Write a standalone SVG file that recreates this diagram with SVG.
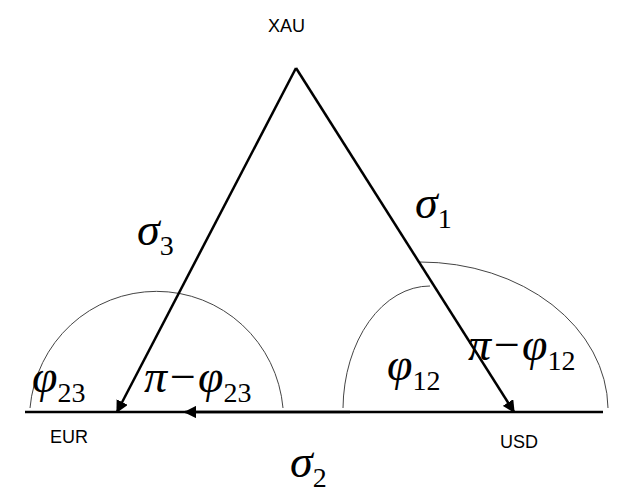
<svg xmlns="http://www.w3.org/2000/svg" width="621" height="501" viewBox="0 0 621 501">
<style>
.l{stroke:#000;stroke-width:2.5;fill:none}
.a{stroke:#444;stroke-width:1;fill:none}
.s{font-family:"Liberation Sans",sans-serif;font-size:18px}
.m{font-family:"Liberation Serif",serif;font-style:italic;font-size:46px}
.sub{font-style:normal;font-size:28px}
</style>
<defs><marker id="ah" viewBox="0 0 10 10" refX="9" refY="5" markerWidth="5" markerHeight="5" orient="auto"><path d="M0,0L10,5L0,10z"/></marker></defs>
<g id="arcs">
<path class="a" d="M30,408 A127,128 0 0 1 283,408"/>
<path class="a" d="M343,408 A87,124 0 0 1 430,286"/>
<path class="a" d="M420,262 A188,148 0 0 1 608,408"/>
</g>
<g id="connectors">
<line class="l" x1="25" y1="412" x2="603" y2="412"/>
<line class="l" x1="350" y1="412" x2="185" y2="412" marker-end="url(#ah)"/>
<line class="l" x1="296" y1="68" x2="117" y2="412" marker-end="url(#ah)"/>
<line class="l" x1="296" y1="68" x2="514" y2="412" marker-end="url(#ah)"/>
</g>
<g id="XAU"><text class="s" x="268" y="32">XAU</text></g>
<g id="EUR"><text class="s" x="50" y="443">EUR</text></g>
<g id="USD"><text class="s" x="500" y="448">USD</text></g>
<g id="labels">
<text class="m" x="137" y="245">σ<tspan class="sub" dy="10">3</tspan></text>
<text class="m" x="415" y="218">σ<tspan class="sub" dy="10">1</tspan></text>
<text class="m" x="290" y="477">σ<tspan class="sub" dy="10">2</tspan></text>
<text class="m" x="32" y="392">φ<tspan class="sub" dy="10">23</tspan></text>
<text class="m" x="144" y="392">π−φ<tspan class="sub" dy="10">23</tspan></text>
<text class="m" x="387" y="380">φ<tspan class="sub" dy="10">12</tspan></text>
<text class="m" x="468" y="360">π−φ<tspan class="sub" dy="10">12</tspan></text>
</g>
</svg>
